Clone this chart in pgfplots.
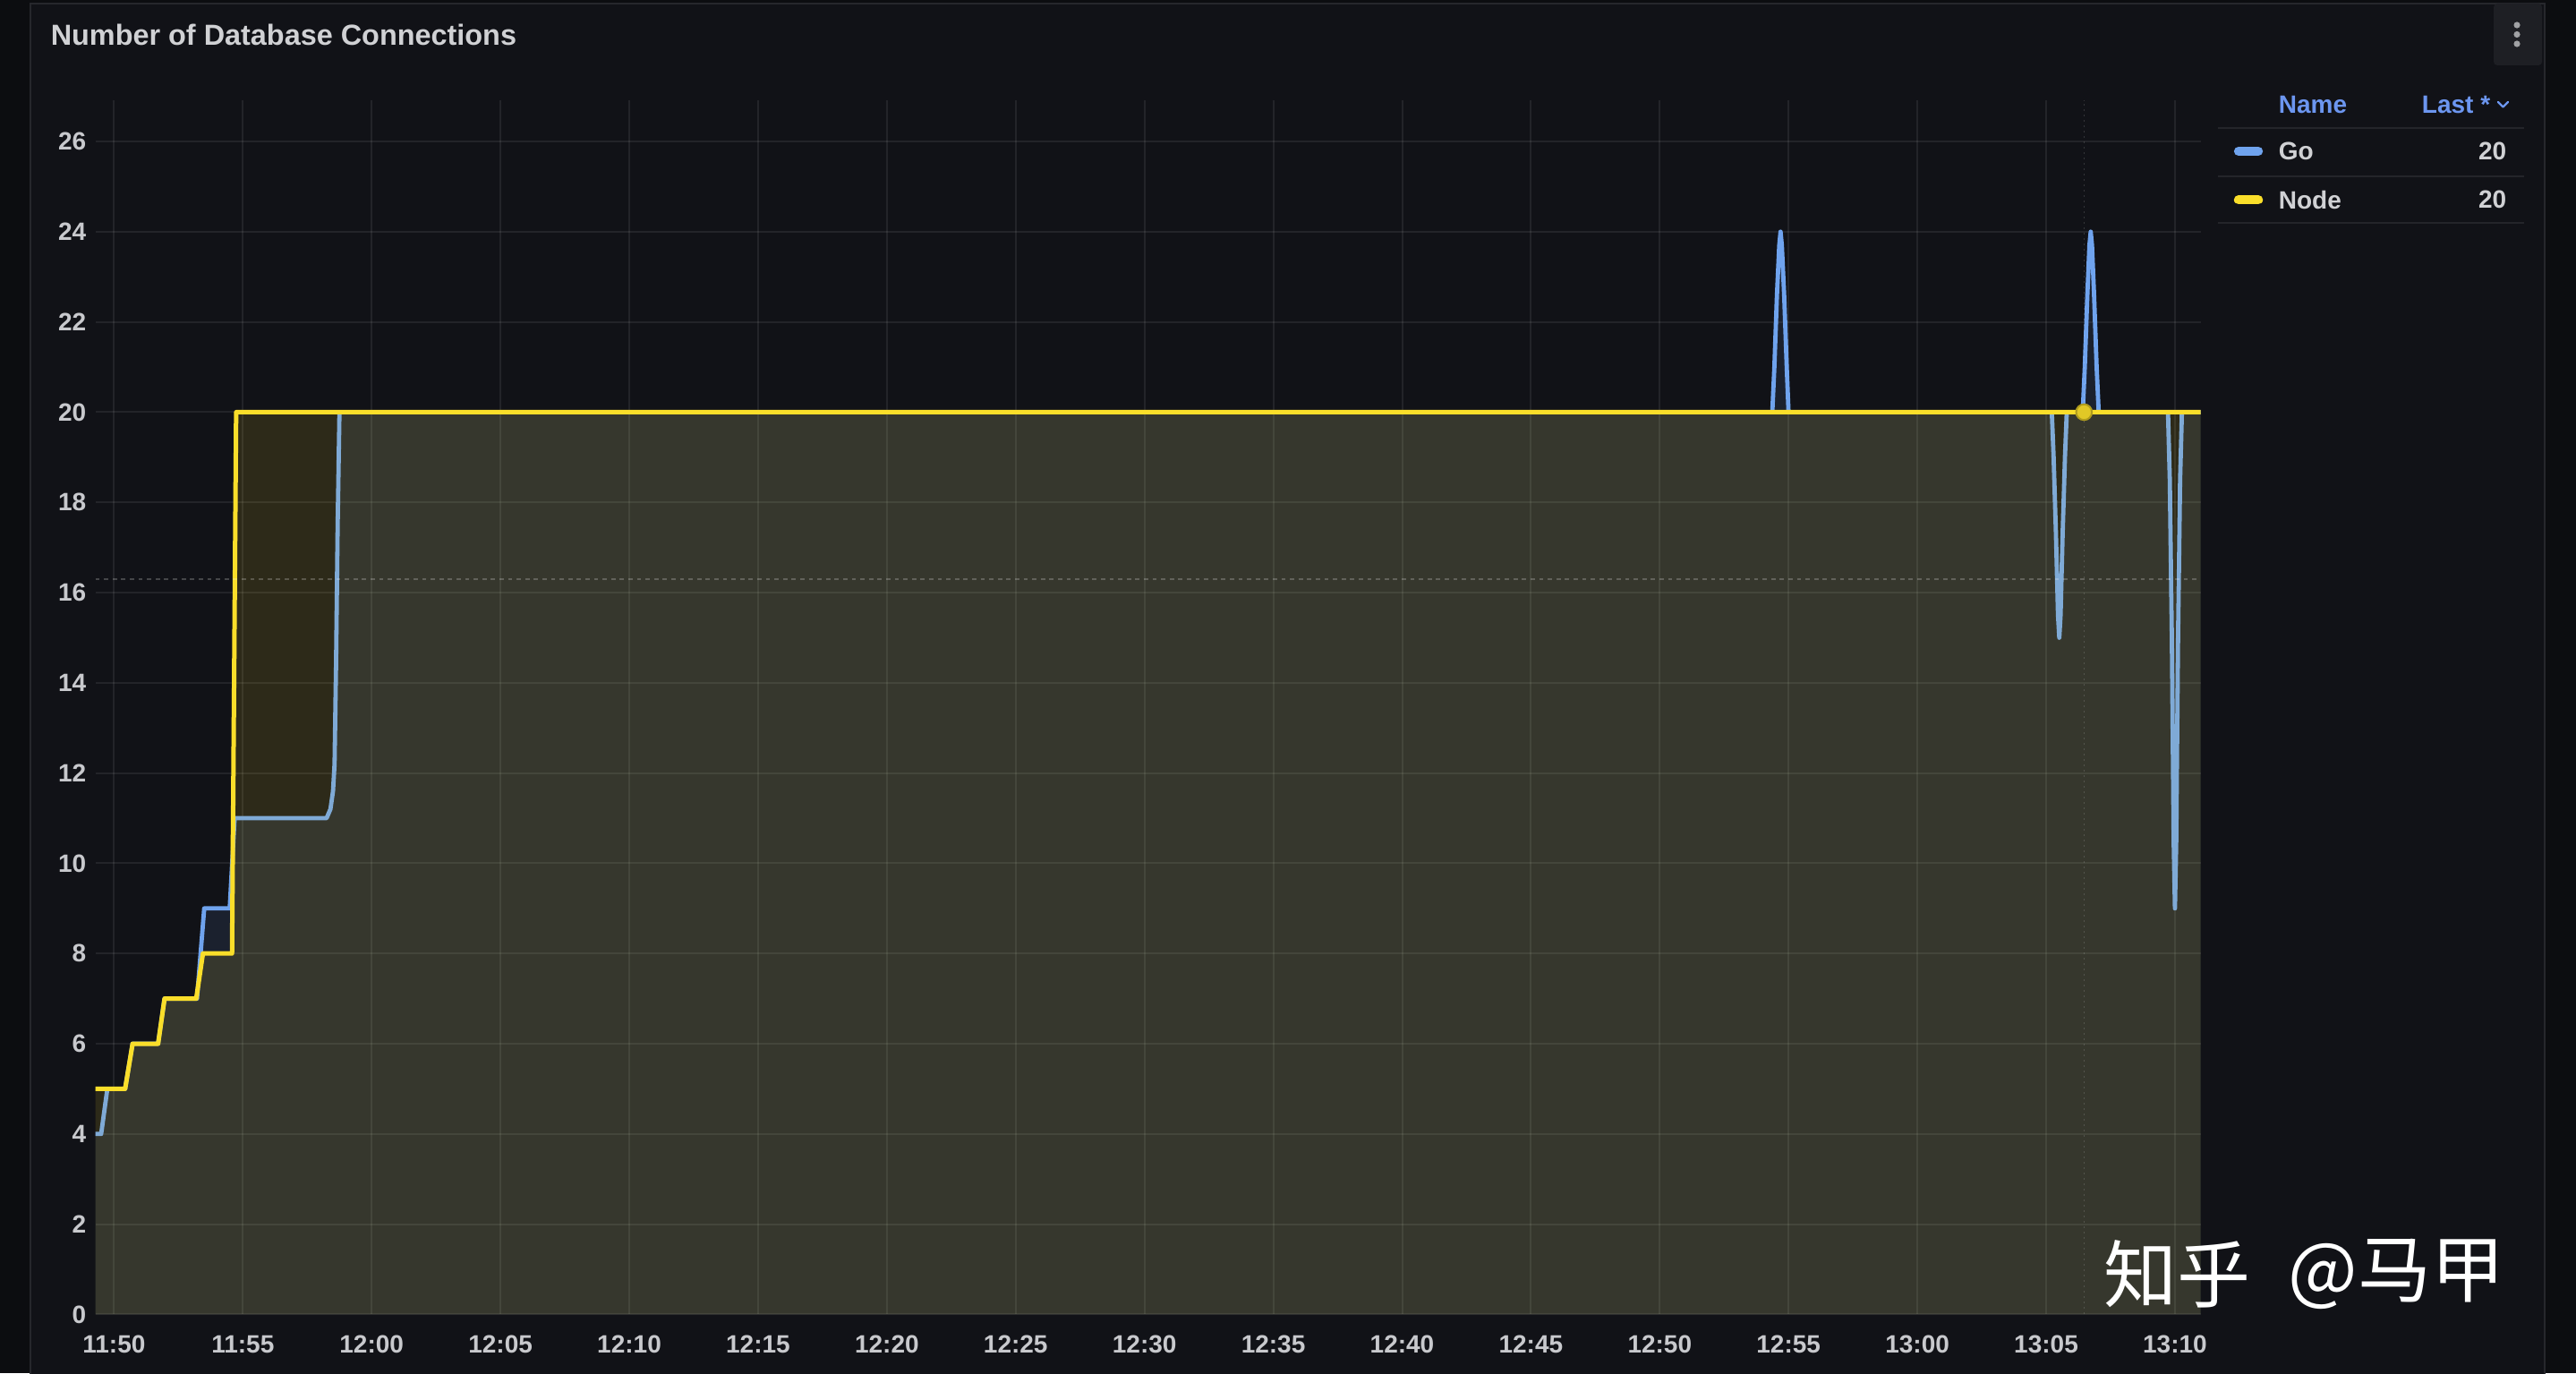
\documentclass[border=0pt]{standalone}
\usepackage{pgfplots}
\usepackage{pgfplotstable}
\pgfplotsset{compat=1.18}
\usepackage{fontspec}
\setmainfont{Liberation Sans}
\newfontfamily\cjk{Noto Sans CJK SC}
\definecolor{outerbg}{RGB}{12,13,16}
\definecolor{panelbg}{RGB}{17,18,23}
\definecolor{panelborder}{RGB}{38,39,44}
\definecolor{ticktext}{RGB}{200,201,205}
\definecolor{titletext}{RGB}{208,209,212}
\definecolor{headblue}{RGB}{108,150,240}
\definecolor{goblue}{RGB}{111,163,238}
\definecolor{nodeyellow}{RGB}{250,222,42}
\definecolor{sepline}{RGB}{36,37,42}
\definecolor{menubox}{RGB}{30,31,36}

\pgfplotstableread{
t v
-0.72 5
0.43 5
0.72 6
1.71 6
1.96 7
3.19 7
3.45 8
4.58 8
4.74 20
81.0 20
}\nodedata

\pgfplotstableread{
t v
-0.72 4
-0.50 4
-0.26 5
0.43 5
0.72 6
1.71 6
1.96 7
3.22 7
3.50 9
4.49 9
4.68 11
8.25 11
8.40 11.2
8.50 11.6
8.56 12.2
8.62 14.5
8.68 17.5
8.75 20
64.37 20
64.45 21
64.55 22.6
64.64 23.7
64.69 24
64.74 23.7
64.83 22.6
64.93 21
65.00 20
75.22 20
75.29 19
75.38 17.3
75.46 15.5
75.51 15
75.56 15.5
75.64 17.3
75.73 19
75.80 20
76.42 20
76.50 21
76.60 22.6
76.68 23.7
76.73 24
76.78 23.7
76.86 22.6
76.96 21
77.04 20
79.73 20
79.80 18.5
79.88 15
79.95 10.5
80.00 9
80.05 10.5
80.12 15
80.20 18.5
80.27 20
81.0 20
}\godata

\begin{document}
\begin{tikzpicture}
\fill[outerbg] (0,0) rectangle (719.5pt,383.5pt);
\useasboundingbox (0,0) rectangle (719.5pt,383.5pt);
\begin{scope}[x=0.25pt,y=-0.25pt,shift={(0pt,383.5pt)}]
  % panel
  \filldraw[fill=panelbg, draw=panelborder, line width=0.5pt] (34,4) rectangle (2843,1545);
  % title
  \node[anchor=west, inner sep=0pt, text=titletext, font=\fontsize{8.1}{9}\selectfont\bfseries] at (56,39) {Number of Database Connections};
  % menu button
  \fill[menubox, rounded corners=1pt] (2786,4) rectangle (2840,73);
  \foreach \yy in {28,38.5,49} \fill[ticktext!80!black] (2812,\yy) circle (3.6);
  % legend
  \begin{scope}[font=\fontsize{7}{8}\selectfont\bfseries]
    \node[anchor=west, inner sep=0pt, text=headblue] at (2545,116.7) {Name};
    \node[anchor=east, inner sep=0pt, text=headblue] at (2783,116.7) {Last *};
    \draw[headblue, line width=0.6pt, line cap=round, line join=round] (2791,114) -- (2796.5,119.5) -- (2802,114);
    \foreach \yy in {143.3,196.7,249.3} \draw[sepline, line width=0.5pt] (2478,\yy) -- (2820,\yy);
    \draw[goblue, line width=2.6pt, line cap=round] (2501,169) -- (2523,169);
    \node[anchor=west, inner sep=0pt, text=titletext] at (2545,169) {Go};
    \node[anchor=east, inner sep=0pt, text=titletext] at (2801,169) {20};
    \draw[nodeyellow, line width=2.6pt, line cap=round] (2501,223.3) -- (2523,223.3);
    \node[anchor=west, inner sep=0pt, text=titletext] at (2545,223.3) {Node};
    \node[anchor=east, inner sep=0pt, text=titletext] at (2801,223.3) {20};
  \end{scope}
\end{scope}

\begin{axis}[
  at={(26.675pt,16.4pt)}, anchor=south west, scale only axis,
  width=588pt, height=339.175pt,
  xmin=-0.72, xmax=81, ymin=0, ymax=26.92,
  axis line style={draw=none}, major tick length=0pt,
  xtick={0,5,...,80},
  xticklabels={11:50,11:55,12:00,12:05,12:10,12:15,12:20,12:25,12:30,12:35,12:40,12:45,12:50,12:55,13:00,13:05,13:10},
  ytick={0,2,...,26},
  yticklabels={0,2,4,6,8,10,12,14,16,18,20,22,24,26},
  grid=major,
  major grid style={white, opacity=0.08, line width=0.5pt},
  xticklabel style={anchor=center, yshift=-8.3pt, inner sep=0pt, text=ticktext, font=\fontsize{7}{8}\selectfont\bfseries},
  yticklabel style={anchor=east, xshift=-2.4pt, inner sep=0pt, text=ticktext, font=\fontsize{7}{8}\selectfont\bfseries},
]
\addplot[draw=none, fill=goblue, fill opacity=0.11] table[x=t,y=v] {\godata} \closedcycle;
\addplot[goblue, line width=1.2pt, line join=round] table[x=t,y=v] {\godata};
\addplot[draw=none, fill=nodeyellow, fill opacity=0.12] table[x=t,y=v] {\nodedata} \closedcycle;
\addplot[nodeyellow, line width=1.25pt, line join=round] table[x=t,y=v] {\nodedata};
\addplot[white, opacity=0.22, line width=0.4pt, dash pattern=on 1.2pt off 1.2pt] coordinates {(-0.72,16.3) (81,16.3)};
\addplot[white, opacity=0.15, line width=0.4pt, dash pattern=on 0.5pt off 1pt] coordinates {(76.47,0) (76.47,26.92)};
\addplot[only marks, mark=*, mark size=2.2pt, mark options={fill=nodeyellow!90!black, draw=nodeyellow!70!black, line width=0.5pt}] coordinates {(76.47,20)};
\end{axis}

\begin{scope}[x=0.25pt,y=-0.25pt,shift={(0pt,383.5pt)}]
  \node[anchor=west, inner sep=0pt, text=white, font=\cjk\fontsize{20.5}{22}\selectfont] at (2350,1423.5) {知乎};
  \node[anchor=west, inner sep=0pt, text=white, font=\cjk\fontsize{20.5}{22}\selectfont] at (2556,1423.5) {@马甲};
\end{scope}
\end{tikzpicture}
\end{document}
